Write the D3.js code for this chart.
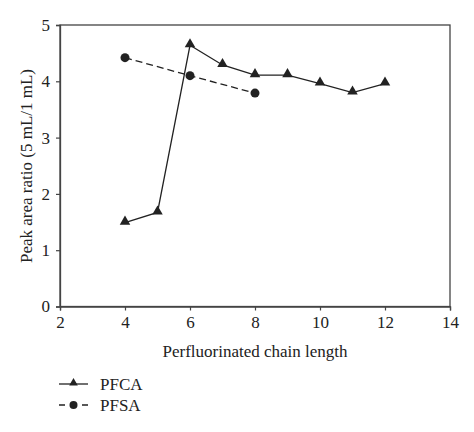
<!DOCTYPE html>
<html>
<head>
<meta charset="utf-8">
<script src="https://cdn.jsdelivr.net/npm/d3@7"></script>
<style>
  body { margin: 0; background: #fff; }
  svg text { font-family: "Liberation Serif", "DejaVu Serif", serif; fill: #222; }
</style>
</head>
<body>
<svg id="chart" width="474" height="432"></svg>
<script>
// chain lengths and peak area ratios
const pfcaX = [4, 5, 6, 7, 8, 9, 10, 11, 12];
const pfcaY = [1.49, 1.67, 4.64, 4.29, 4.11, 4.11, 3.96, 3.80, 3.96];
const pfsaX = [4, 6, 8];
const pfsaY = [4.42, 4.10, 3.79];
const xTicks = [2, 4, 6, 8, 10, 12, 14];
const yTicks = [0, 1, 2, 3, 4, 5];

const svg = d3.select("#chart");
const ink = "#222";

const x = d3.scaleLinear().domain([2, 14]).range([60, 450]);
const y = d3.scaleLinear().domain([0, 5]).range([306.5, 25]);

// frame
svg.append("rect")
  .attr("x", x(2)).attr("y", y(5))
  .attr("width", x(14) - x(2)).attr("height", y(0) - y(5))
  .attr("fill", "none").attr("stroke", "#444").attr("stroke-width", 1.3);

const xAxis = svg.append("g")
  .attr("transform", `translate(0,${y(0)})`)
  .call(d3.axisBottom(x).tickValues(xTicks).tickFormat(d3.format("d"))
    .tickSize(4).tickPadding(5));
const yAxis = svg.append("g")
  .attr("transform", `translate(${x(2)},0)`)
  .call(d3.axisLeft(y).tickValues(yTicks).tickFormat(d3.format("d"))
    .tickSize(4).tickPadding(6));

[xAxis, yAxis].forEach(g => {
  g.select(".domain").attr("stroke", "#444").attr("stroke-width", 1.3);
  g.selectAll(".tick line").attr("stroke", "#444").attr("stroke-width", 1.2);
  g.selectAll(".tick text")
    .attr("font-family", "Liberation Serif, serif")
    .attr("font-size", 17).attr("fill", ink);
});

svg.append("text")
  .attr("x", 255).attr("y", 357)
  .attr("text-anchor", "middle").attr("font-size", 17)
  .text("Perfluorinated chain length");

svg.append("text")
  .attr("transform", "translate(32,166) rotate(-90)")
  .attr("text-anchor", "middle").attr("font-size", 17)
  .text("Peak area ratio (5 mL/1 mL)");

const line = d3.line().x(d => x(d[0])).y(d => y(d[1]));
const pfca = pfcaX.map((v, i) => [v, pfcaY[i]]);
const pfsa = pfsaX.map((v, i) => [v, pfsaY[i]]);

svg.append("path").datum(pfsa).attr("d", line)
  .attr("fill", "none").attr("stroke", ink).attr("stroke-width", 1.3)
  .attr("stroke-dasharray", "7,4");
svg.append("path").datum(pfca).attr("d", line)
  .attr("fill", "none").attr("stroke", ink).attr("stroke-width", 1.3);

const tri = d3.symbol().type(d3.symbolTriangle).size(48);
svg.selectAll(".pfca").data(pfca).enter()
  .append("path").attr("class", "pfca")
  .attr("d", tri)
  .attr("transform", d => `translate(${x(d[0])},${y(d[1]) - 1})`)
  .attr("fill", ink);

svg.selectAll(".pfsa").data(pfsa).enter()
  .append("circle").attr("class", "pfsa")
  .attr("cx", d => x(d[0])).attr("cy", d => y(d[1]))
  .attr("r", 4.5).attr("fill", ink);

// legend
const legend = [
  { name: "PFCA", dash: null, y: 384 },
  { name: "PFSA", dash: "6,17", y: 405 }
];
legend.forEach(l => {
  svg.append("line")
    .attr("x1", 59).attr("x2", 88).attr("y1", l.y).attr("y2", l.y)
    .attr("stroke", ink).attr("stroke-width", 1.3)
    .attr("stroke-dasharray", l.dash);
  if (l.dash) {
    svg.append("circle").attr("cx", 73.5).attr("cy", l.y).attr("r", 4).attr("fill", ink);
  } else {
    svg.append("path").attr("d", d3.symbol().type(d3.symbolTriangle).size(32))
      .attr("transform", `translate(73.5,${l.y - 1})`).attr("fill", ink);
  }
  svg.append("text")
    .attr("x", 100).attr("y", l.y + 6).attr("font-size", 17)
    .text(l.name);
});
</script>
</body>
</html>
